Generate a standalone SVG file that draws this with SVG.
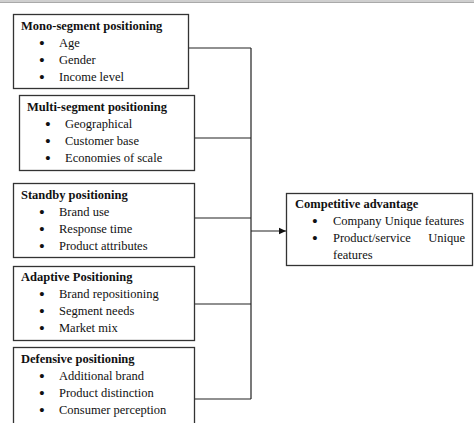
<svg xmlns="http://www.w3.org/2000/svg" width="474" height="423" viewBox="0 0 474 423">
<style>
.box{fill:#fff;stroke:#333;stroke-width:1.3}
.t{font-family:"Liberation Serif","Times New Roman",serif;font-size:12.5px;fill:#111}
.h{font-weight:bold}
.b{font-family:"Liberation Sans",Arial,sans-serif;font-size:15px;fill:#111;text-anchor:middle}
.c{fill:none;stroke:#222;stroke-width:1.2}
</style>
<defs>
<marker id="ah" markerWidth="8" markerHeight="8" refX="7" refY="4" orient="auto" markerUnits="userSpaceOnUse">
<path d="M0,0.8 L7,4 L0,7.2 Z" fill="#111"/>
</marker>
</defs>
<rect width="474" height="423" fill="#fff"/>
<rect x="0" y="0" width="474" height="2.5" fill="#cfcfcf"/>
<line x1="0" y1="2.5" x2="474" y2="2.5" stroke="#999" stroke-width="0.8"/>
<g id="connectors">
<path class="c" d="M188,48 H251 M194,138 H251 M194,218 H251 M194,304 H251 M194,399 H251 M251,48 V399"/>
<line class="c" x1="251" y1="231" x2="286" y2="231" marker-end="url(#ah)"/>
</g>
<g id="mono">
<rect class="box" x="13.5" y="14.5" width="175" height="74"/>
<text class="t h" x="21" y="30">Mono-segment positioning</text>
<text class="b" x="42" y="48">•</text><text class="t" x="59" y="47">Age</text>
<text class="b" x="42" y="65">•</text><text class="t" x="59" y="64">Gender</text>
<text class="b" x="42" y="82">•</text><text class="t" x="59" y="81">Income level</text>
</g>
<g id="multi">
<rect class="box" x="19.5" y="95.5" width="175" height="75"/>
<text class="t h" x="27" y="111">Multi-segment positioning</text>
<text class="b" x="48" y="129">•</text><text class="t" x="65" y="128">Geographical</text>
<text class="b" x="48" y="146">•</text><text class="t" x="65" y="145">Customer base</text>
<text class="b" x="48" y="163">•</text><text class="t" x="65" y="162">Economies of scale</text>
</g>
<g id="standby">
<rect class="box" x="13.5" y="183.5" width="181" height="74"/>
<text class="t h" x="21" y="199">Standby positioning</text>
<text class="b" x="42" y="217">•</text><text class="t" x="59" y="216">Brand use</text>
<text class="b" x="42" y="234">•</text><text class="t" x="59" y="233">Response time</text>
<text class="b" x="42" y="251">•</text><text class="t" x="59" y="250">Product attributes</text>
</g>
<g id="adaptive">
<rect class="box" x="13.5" y="266.5" width="181" height="74"/>
<text class="t h" x="21" y="281">Adaptive Positioning</text>
<text class="b" x="42" y="299">•</text><text class="t" x="59" y="298">Brand repositioning</text>
<text class="b" x="42" y="316">•</text><text class="t" x="59" y="315">Segment needs</text>
<text class="b" x="42" y="333">•</text><text class="t" x="59" y="332">Market mix</text>
</g>
<g id="defensive">
<rect class="box" x="13.5" y="347.5" width="181" height="85"/>
<text class="t h" x="21" y="363">Defensive positioning</text>
<text class="b" x="42" y="381">•</text><text class="t" x="59" y="380">Additional brand</text>
<text class="b" x="42" y="398">•</text><text class="t" x="59" y="397">Product distinction</text>
<text class="b" x="42" y="415">•</text><text class="t" x="59" y="414">Consumer perception</text>
</g>
<g id="competitive">
<rect class="box" x="286.5" y="193.5" width="186" height="72"/>
<text class="t h" x="295" y="208">Competitive advantage</text>
<text class="b" x="315" y="226">•</text><text class="t" x="333" y="225">Company Unique features</text>
<text class="b" x="315" y="243">•</text><text class="t" x="333" y="242">Product/service</text><text class="t" x="465" y="242" text-anchor="end">Unique</text>
<text class="t" x="333" y="259">features</text>
</g>
</svg>
